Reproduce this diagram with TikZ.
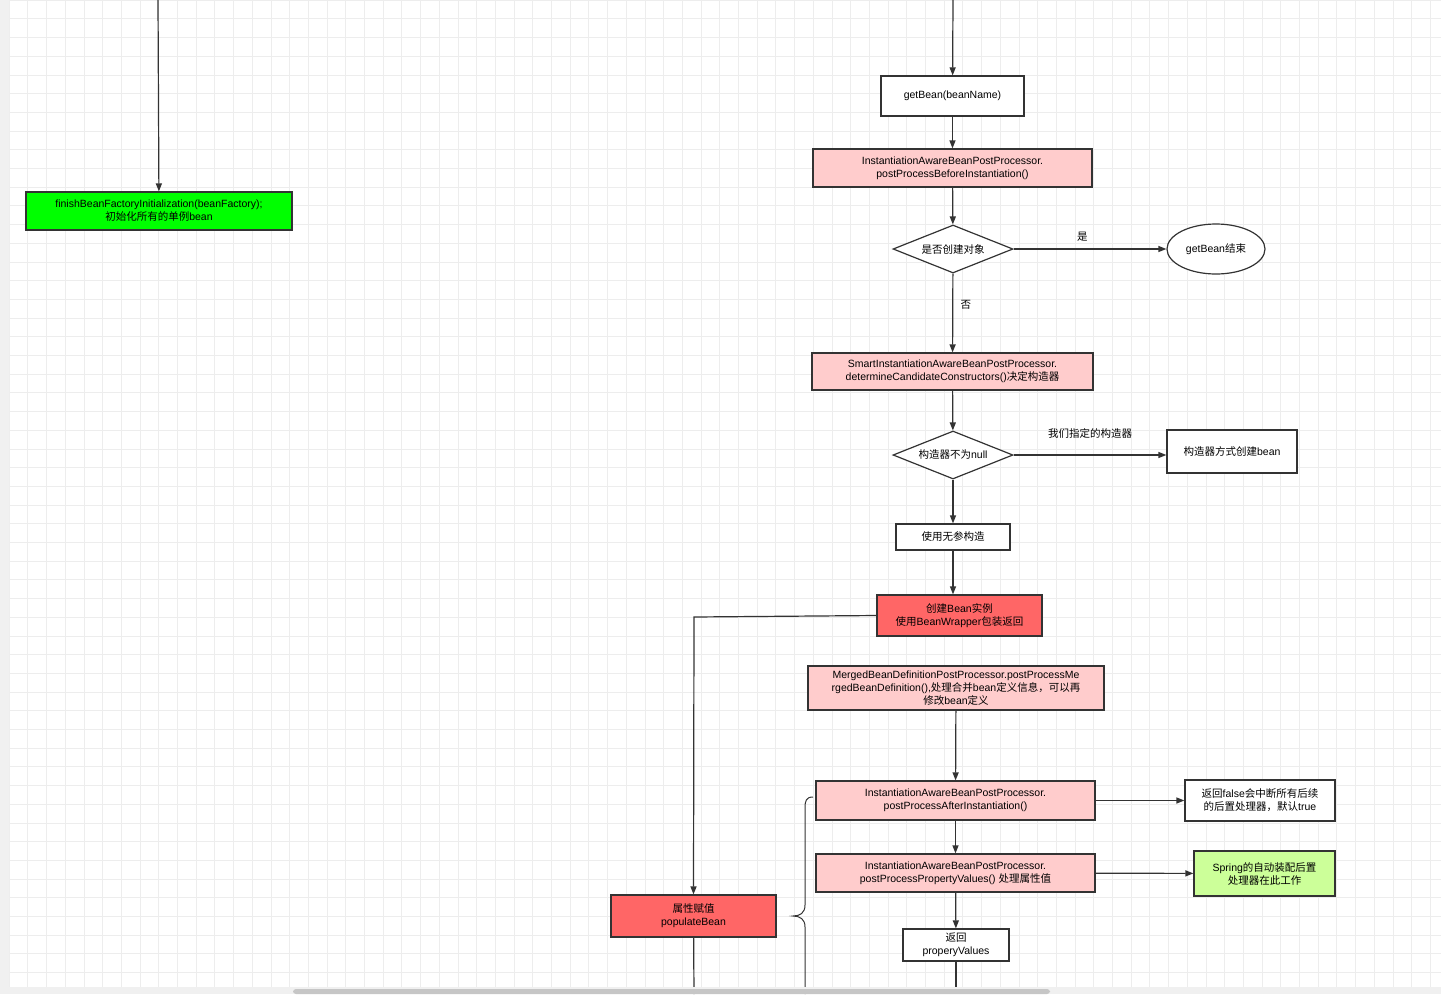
\documentclass[tikz,border=0pt]{standalone}
\usepackage{fontspec}
\setmainfont{Liberation Sans}
\newfontfamily\cjk{Noto Sans CJK SC}
\usetikzlibrary{arrows.meta,shapes.geometric}
\definecolor{ln}{HTML}{333333}
\definecolor{pink}{HTML}{FFCCCC}
\definecolor{red}{HTML}{FF6666}
\definecolor{lgreen}{HTML}{CCFF99}
\definecolor{grn}{HTML}{00FF00}
\begin{document}
\begin{tikzpicture}[x=1pt,y=-1pt,
 font=\fontsize{10.5}{13}\selectfont,
 box/.style={draw=ln,line width=1.2pt,align=center,inner sep=0pt,rectangle},
 dia/.style={draw=ln,line width=1.2pt,diamond,aspect=2.5,inner sep=0pt,minimum width=120pt,minimum height=48pt},
 arr/.style={draw=ln,line width=1.2pt,-{Triangle[length=8pt,width=6pt]}},
 ln/.style={draw=ln,line width=1.2pt},
 lab/.style={font=\fontsize{10.5}{13}\selectfont\cjk}]
\useasboundingbox (0,0) rectangle (1441,994);
\fill[white] (0,0) rectangle (1441,994);
\fill[gray!12] (0,0) rectangle (9,994);
\foreach \x in {9,27.7,...,1441} \draw[gray!14,line width=0.6pt] (\x,0) -- (\x,994);
\foreach \y in {0,18.7,...,994} \draw[gray!14,line width=0.6pt] (9,\y) -- (1441,\y);
% nodes
\coordinate (t1) at (158,0);
\coordinate (t2) at (953,0);
\node[box,fill=grn,minimum width=266pt,minimum height=38pt] (fin) at (159,211) {finishBeanFactoryInitialization(beanFactory);\\{\cjk 初始化所有的单例}bean};
\node[box,fill=white,minimum width=143pt,minimum height=40pt] (gb) at (952.5,96) {getBean(beanName)};
\node[box,fill=pink,minimum width=279pt,minimum height=38pt] (ia1) at (952.5,168) {InstantiationAwareBeanPostProcessor.\\postProcessBeforeInstantiation()};
\node[dia,fill=white] (d1) at (953,249) {\cjk 是否创建对象};
\node[ellipse,draw=ln,line width=1.2pt,fill=white,minimum width=98pt,minimum height=50pt,inner sep=0pt] (end) at (1216,249) {getBean{\cjk 结束}};
\node[box,fill=pink,minimum width=281pt,minimum height=37pt] (smart) at (952.5,371.5) {SmartInstantiationAwareBeanPostProcessor.\\determineCandidateConstructors(){\cjk 决定构造器}};
\node[dia,fill=white] (d2) at (953,455) {{\cjk 构造器不为}null};
\node[box,fill=white,minimum width=130pt,minimum height=43pt] (ctor) at (1232,451.5) {{\cjk 构造器方式创建}bean};
\node[box,fill=white,minimum width=114pt,minimum height=26pt] (noarg) at (953,537) {\cjk 使用无参构造};
\node[box,fill=red,minimum width=165pt,minimum height=41pt] (create) at (959.5,615.5) {{\cjk 创建}Bean{\cjk 实例}\\{\cjk 使用}BeanWrapper{\cjk 包装返回}};
\node[box,fill=pink,minimum width=296pt,minimum height=44pt] (merged) at (956,688) {MergedBeanDefinitionPostProcessor.postProcessMe\\rgedBeanDefinition(),{\cjk 处理合并}bean{\cjk 定义信息，可以再}\\{\cjk 修改}bean{\cjk 定义}};
\node[box,fill=pink,minimum width=279pt,minimum height=39pt] (after) at (955.5,800.5) {InstantiationAwareBeanPostProcessor.\\postProcessAfterInstantiation()};
\node[box,fill=white,minimum width=150pt,minimum height=41pt] (rf) at (1260,800.5) {{\cjk 返回}false{\cjk 会中断所有后续}\\{\cjk 的后置处理器，默认}true};
\node[box,fill=pink,minimum width=279pt,minimum height=38pt] (pv) at (955.5,873) {InstantiationAwareBeanPostProcessor.\\postProcessPropertyValues() {\cjk 处理属性值}};
\node[box,fill=lgreen,minimum width=141pt,minimum height=45pt] (sp) at (1264.5,873.5) {Spring{\cjk 的自动装配后置}\\{\cjk 处理器在此工作}};
\node[box,fill=white,minimum width=106pt,minimum height=32pt] (ret) at (956,945) {{\cjk 返回}\\properyValues};
\node[box,fill=red,minimum width=165pt,minimum height=42pt] (pop) at (693.5,916) {{\cjk 属性赋值}\\populateBean};
\coordinate (b1) at (694,994);
\coordinate (b2) at (956,994);
% connectors
\draw[arr] (t1) -- (fin);
\draw[arr] (t2) -- (gb);
\draw[arr] (gb) -- (ia1);
\draw[arr] (ia1) -- (d1);
\draw[arr] (d1) -- (end) node[lab,pos=0.45,above=4pt] {是};
\draw[arr] (d1) -- (smart) node[lab,pos=0.4,right=4pt] {否};
\draw[arr] (smart) -- (d2);
\draw[arr] (d2) -- (ctor.west|-d2) node[lab,midway,above=13pt] {我们指定的构造器};
\draw[arr] (d2) -- (noarg);
\draw[arr] (noarg) -- (noarg|-create.north);
\draw[arr] (create.west) -- (694,617) -- (pop.north);
\draw[arr] (merged) -- (after);
\draw[arr] (after) -- (rf);
\draw[arr] (after) -- (pv);
\draw[arr] (pv) -- (sp);
\draw[arr] (pv) -- (ret);
\draw[ln] (pop) -- (b1);
\draw[ln] (ret) -- (b2);
% brace
\draw[ln,line width=1pt] (813,797) .. controls (806,797) and (805,801) .. (805,808) -- (805,905) .. controls (805,913) and (800,916) .. (793,916) .. controls (800,916) and (805,919) .. (805,927) -- (805,994);
% scrollbar
\fill[gray!12] (9,987) rectangle (1441,994);
\fill[gray!45,rounded corners=3pt] (293,989) rectangle (1050,994);
\end{tikzpicture}
\end{document}
